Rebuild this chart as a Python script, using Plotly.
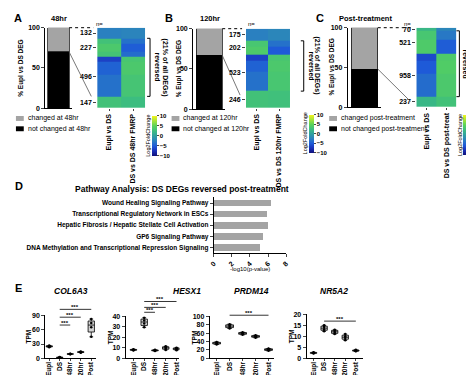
import plotly.graph_objects as go
from itertools import accumulate

W, H = 474, 375
FONT = "Liberation Sans, Arial, sans-serif"
GREY = "#a4a4a4"

# ---------------- DATA ----------------
panel_letters = ["A", "B", "C"]
bar_titles = ["48hr", "120hr", "Post-treatment"]
pct_not_changed = [70, 67, 48]
pct_changed = [30, 33, 52]
legend_changed = ["changed at 48hr", "changed at 120hr", "changed post-treatment"]
legend_not = ["not changed at 48hr", "not changed at 120hr", "not changed post-treatment"]
reversed_pct = ["(21% of all DEGs)", "(21% of all DEGs)", "(43% of all DEGs)"]

hm_cols_A = ["Eupl vs DS", "DS vs DS 48hr FMRP"]
hm_cols_B = ["Eupl vs DS", "DS vs DS 120hr FMRP"]
hm_cols_C = ["Eupl vs DS", "DS vs DS post-treat"]

blocks_A = [132, 227, 496, 147]
blocks_B = [175, 202, 523, 246]
blocks_C = [70, 521, 958, 237]

# sub-segments of the blocks (gene counts) with their log2 fold changes
segments_A = [132, 70, 100, 57, 70, 160, 266, 147]
lfc_eupl_A = [-2.5, 3.0, 3.8, 3.2, -6.5, -4.5, -3.5, 3.0]
lfc_treat_A = [-2.2, -3.5, -4.8, -3.8, 3.5, 3.8, 3.3, 2.5]

segments_B = [175, 80, 122, 80, 170, 273, 246]
lfc_eupl_B = [-2.5, 3.5, 4.0, -6.5, -4.5, -3.5, 3.0]
lfc_treat_B = [-2.0, -3.5, -5.0, 3.5, 3.8, 3.5, 2.8]

segments_C = [70, 200, 321, 150, 300, 508, 237]
lfc_eupl_C = [2.0, 3.5, 4.0, -6.0, -5.0, -3.8, 2.0]
lfc_treat_C = [-2.0, -3.0, -4.8, 4.0, 4.2, 3.8, 3.0]

cb_ticks = [-10, -5, 0, 5, 10]

pathways = ["Wound Healing Signaling Pathway",
            "Transcriptional Regulatory Network in ESCs",
            "Hepatic Fibrosis / Hepatic Stellate Cell Activation",
            "GP6 Signaling Pathway",
            "DNA Methylation and Transcriptional Repression Signaling"]
neglog10_p = [6.3, 5.85, 5.95, 5.4, 5.15]
d_ticks = [0, 2, 4, 6, 8]

groups = ["Eupl", "DS", "48hr", "120hr", "Post"]
genes = ["COL6A3", "HESX1", "PRDM14", "NR5A2"]
tpm_COL6A3 = [[23.5, 24.5, 25.5, 27], [1.2, 1.8, 2.3, 2.8], [8.5, 9, 9.4, 9.8],
              [12, 12.8, 13.6, 14.5], [45, 65, 74, 82]]
tpm_HESX1 = [[7.5, 8, 8.3, 8.7], [29.5, 33, 36, 38.5], [7, 7.4, 7.8, 8.2],
             [8, 9.5, 10.5, 11.5], [7.8, 8.8, 9.5, 10.2]]
tpm_PRDM14 = [[33, 35.5, 37, 39], [71, 75, 78, 81], [56, 58.5, 60.5, 62],
              [49, 51.5, 53, 55], [18, 20, 22, 23.5]]
tpm_NR5A2 = [[2.2, 2.4, 2.6, 2.8], [12.3, 13.2, 14.2, 15], [11, 11.7, 12.4, 13],
             [8.2, 9.2, 10, 11], [3.2, 3.4, 3.7, 3.9]]
tpm_ticks = [[0, 30, 60, 90], [0, 10, 20, 30, 40], [0, 20, 40, 60, 80, 100], [0, 5, 10, 15, 20]]
sig_pairs = [[("DS", "Post"), ("DS", "120hr"), ("DS", "48hr")],
             [("DS", "Post"), ("DS", "120hr"), ("DS", "48hr")],
             [("DS", "Post")],
             [("DS", "Post")]]

# ---------------- LAYOUT HELPERS ----------------
def xd(a, b):
    return [a / W, b / W]

def yd(top, bot):
    return [1 - bot / H, 1 - top / H]

def an(i):
    return "" if i == 1 else str(i)

def fnt(size=7, bold=True, italic=False, color="black"):
    return dict(family=FONT, size=size, color=color,
                weight="bold" if bold else "normal",
                style="italic" if italic else "normal")

annotations = []
shapes = []

def ann(text, x, y, size=7, bold=True, angle=0, xa="center", ya="middle",
        xref="paper", yref="paper", italic=False, px=True):
    if px and xref == "paper":
        x = x / W
    if px and yref == "paper":
        y = 1 - y / H
    annotations.append(dict(text=text, x=x, y=y, xref=xref, yref=yref, showarrow=False,
                            textangle=angle, xanchor=xa, yanchor=ya,
                            font=fnt(size, bold, italic)))

def pline(x0, y0, x1, y1, width=1, color="black", dash="solid"):
    shapes.append(dict(type="line", xref="paper", yref="paper", x0=x0 / W, x1=x1 / W,
                       y0=1 - y0 / H, y1=1 - y1 / H,
                       line=dict(color=color, width=width, dash=dash)))

CS = [[0.0, "#10107a"], [0.125, "#1a30b8"], [0.25, "#1e5ad8"], [0.375, "#2a80c0"],
      [0.5, "#2fa0a0"], [0.625, "#3cbd80"], [0.75, "#5ad35a"], [0.875, "#a5e33a"],
      [1.0, "#f2f21e"]]

fig = go.Figure()
layout = dict(width=W, height=H, margin=dict(l=0, r=0, t=0, b=0, pad=0),
              paper_bgcolor="white", plot_bgcolor="white", showlegend=False,
              barmode="stack", font=dict(family=FONT, size=7, color="black"))

# ---------------- PANELS A-C ----------------
hm_data = [(blocks_A, segments_A, lfc_eupl_A, lfc_treat_A, hm_cols_A),
           (blocks_B, segments_B, lfc_eupl_B, lfc_treat_B, hm_cols_B),
           (blocks_C, segments_C, lfc_eupl_C, lfc_treat_C, hm_cols_C)]

geo = [
    dict(bx=(33, 60), by=(16, 98), hx=(86, 135), hy=(16, 98), cbx=142, cby=(106, 146),
         brx=140, t1x=148, t2x=155, ytx=8, letter=(5, 6), nx=88, lgx=3),
    dict(bx=(184, 217), by=(17, 99), hx=(238, 283), hy=(17, 98), cbx=302, cby=(105, 143),
         brx=297, t1x=304, t2x=311, ytx=170, letter=(159, 6), nx=244, lgx=162),
    dict(bx=(342, 376), by=(16, 97), hx=(412, 453), hy=(16, 97), cbx=460, cby=(105, 145),
         brx=456, t1x=462, t2x=468, ytx=326, letter=(314, 6), nx=403, lgx=323),
]
BARW = 0.8

for i in range(3):
    g = geo[i]
    bi, hi = 2 * i + 1, 2 * i + 2
    blocks, segs, eupl, treat, cols = hm_data[i]

    fig.add_trace(go.Bar(x=[0], y=[pct_not_changed[i]], width=BARW,
                         marker=dict(color="black", line=dict(color="black", width=0.7)),
                         xaxis="x" + an(bi), yaxis="y" + an(bi)))
    fig.add_trace(go.Bar(x=[0], y=[pct_changed[i]], width=BARW,
                         marker=dict(color=GREY, line=dict(color="black", width=0.7)),
                         xaxis="x" + an(bi), yaxis="y" + an(bi)))
    layout["xaxis" + an(bi)] = dict(domain=xd(*g["bx"]), range=[-0.5, 0.5], showticklabels=False,
                                    showline=True, linecolor="black", linewidth=1, ticks="",
                                    showgrid=False, zeroline=False, anchor="y" + an(bi))
    layout["yaxis" + an(bi)] = dict(domain=yd(*g["by"]), range=[0, 100], tickvals=[0, 50, 100],
                                    ticks="outside", ticklen=3, tickwidth=1, showline=True,
                                    linecolor="black", linewidth=1, showgrid=False, zeroline=False,
                                    tickfont=fnt(7), anchor="x" + an(bi))

    edges = [0] + list(accumulate(segs))
    bedges = [0] + list(accumulate(blocks))
    centers = [(a + b) / 2 for a, b in zip(bedges[:-1], bedges[1:])]
    z = [[e, t] for e, t in zip(eupl, treat)]
    cb0, cb1 = g["cby"]
    fig.add_trace(go.Heatmap(
        x=cols, y=edges, z=z, zmin=-10, zmax=10, colorscale=CS,
        xaxis="x" + an(hi), yaxis="y" + an(hi),
        colorbar=dict(x=g["cbx"] / W, xanchor="left", y=1 - (cb0 + cb1) / 2 / H, yanchor="middle",
                      len=cb1 - cb0, lenmode="pixels", thickness=5, thicknessmode="pixels",
                      tickvals=cb_ticks, ticks="outside", ticklen=2, tickwidth=0.8,
                      tickfont=fnt(6), outlinewidth=0, xpad=0, ypad=0)))
    layout["xaxis" + an(hi)] = dict(domain=xd(*g["hx"]), tickangle=-90, ticks="outside", ticklen=2,
                                    showline=False, showgrid=False, zeroline=False,
                                    tickfont=fnt(7), anchor="y" + an(hi))
    layout["yaxis" + an(hi)] = dict(domain=yd(*g["hy"]), range=[bedges[-1], 0],
                                    tickvals=centers, ticktext=[str(n) for n in blocks],
                                    ticks="outside", ticklen=3, tickwidth=1, showline=False,
                                    showgrid=False, zeroline=False, tickfont=fnt(7),
                                    anchor="x" + an(hi))

    # bracket for reversed genes (blocks 2 and 3)
    yref = "y" + an(hi)
    r0, r1 = bedges[1], bedges[3]
    bx = g["brx"]
    for (x0, x1, y0, y1) in [(bx, bx, r0, r1), (bx - 3, bx, r0, r0), (bx - 3, bx, r1, r1)]:
        shapes.append(dict(type="line", xref="paper", yref=yref, x0=x0 / W, x1=x1 / W,
                           y0=y0, y1=y1, line=dict(color="black", width=1)))
    ann("reversed", g["t1x"], (r0 + r1) / 2, size=7, angle=90, yref=yref)
    ann(reversed_pct[i], g["t2x"], (r0 + r1) / 2, size=7, angle=90, yref=yref)

    # connectors between bar and heatmap
    bx0, bx1 = g["bx"]
    by0, by1 = g["by"]
    bar_right = bx0 + (0.5 + BARW / 2) * (bx1 - bx0)
    hx0 = g["hx"][0]
    pline(bar_right, by0, hx0 - 4, by0, width=1, dash="dot")
    ytop = by1 - pct_not_changed[i] / 100 * (by1 - by0)
    xe = hx0 - 6
    ye = ytop + (g["hy"][1] - ytop) * (xe - bar_right) / (hx0 - bar_right)
    pline(bar_right, ytop, xe, ye, width=0.8, color="#555555")

    # texts
    ann(panel_letters[i], g["letter"][0], g["letter"][1], size=11)
    ann(bar_titles[i], (bx0 + bx1) / 2 + 1, 7, size=7.5)
    ann("% Eupl vs DS DEG", g["ytx"], (by0 + by1) / 2, size=6.5, angle=-90)
    ann("n=", g["nx"], 12.5, size=6, bold=False)
    ann("Log2FoldChange", g["cbx"] - 4, (cb0 + cb1) / 2, size=5.5, bold=False, angle=-90)

    # manual legend
    lx = g["lgx"]
    for (yc, col, txt) in [(108.5, GREY, legend_changed[i]), (119, "black", legend_not[i])]:
        shapes.append(dict(type="rect", xref="paper", yref="paper", x0=lx / W, x1=(lx + 8) / W,
                           y0=1 - (yc + 2.5) / H, y1=1 - (yc - 2.5) / H,
                           fillcolor=col, line=dict(width=0)))
        ann(txt, lx + 10, yc, size=7, bold=False, xa="left")

# ---------------- PANEL D ----------------
fig.add_trace(go.Bar(y=pathways, x=neglog10_p, orientation="h", width=0.6,
                     marker=dict(color=GREY, line=dict(width=0)), xaxis="x7", yaxis="y7"))
layout["xaxis7"] = dict(domain=xd(205, 279), range=[0, 8], tickvals=d_ticks, tickangle=-45,
                        ticks="outside", ticklen=3, showline=True, linecolor="black", linewidth=1,
                        showgrid=False, zeroline=False, tickfont=fnt(7), anchor="y7")
layout["yaxis7"] = dict(domain=yd(189, 245.5), type="category", categoryorder="array",
                        categoryarray=pathways, autorange="reversed", ticks="outside", ticklen=3,
                        showline=True, linecolor="black", linewidth=1, showgrid=False,
                        tickfont=fnt(6.5), anchor="x7")
ann("D", 6, 177, size=11)
ann("Pathway Analysis: DS DEGs reversed post-treatment", 173, 180, size=8.5)
ann("-log10(p-value)", 242, 262, size=6, bold=False)

# ---------------- PANEL E ----------------
tpm_all = [tpm_COL6A3, tpm_HESX1, tpm_PRDM14, tpm_NR5A2]
e_dx = [(33, 85), (115, 170), (201, 267), (300, 358)]
e_dy = [(309, 353), (310, 353), (310, 353), (308, 353)]
e_rx = [[-0.37, 4.47], [-0.73, 4.27], [-0.53, 4.45], [-0.65, 4.72]]
e_title_x = [59, 178, 244, 328]
e_tpm_x = [16, 99, 185, 284]
sig_y_px = [[303, 311, 319], [295, 301, 306], [309], [315]]

ann("E", 6, 281, size=11)
for j, gname in enumerate(genes):
    k = 8 + j
    for gi, grp in enumerate(groups):
        vals = tpm_all[j][gi]
        fig.add_trace(go.Box(x=[grp] * len(vals), y=vals, name=grp, width=0.6,
                             boxpoints="all", jitter=0, pointpos=0, quartilemethod="exclusive",
                             marker=dict(color="black", size=2.5),
                             line=dict(color="black", width=0.8), fillcolor="#d4d4d4",
                             whiskerwidth=0.6, xaxis="x" + str(k), yaxis="y" + str(k)))
    ymax = tpm_ticks[j][-1]
    layout["xaxis" + str(k)] = dict(domain=xd(*e_dx[j]), type="category", categoryorder="array",
                                    categoryarray=groups, range=e_rx[j], tickangle=-90,
                                    ticks="outside", ticklen=2, ticklabelstandoff=-2,
                                    showline=True, linecolor="black",
                                    linewidth=1, showgrid=False, tickfont=fnt(6.5),
                                    anchor="y" + str(k))
    layout["yaxis" + str(k)] = dict(domain=yd(*e_dy[j]), range=[0, ymax], tickvals=tpm_ticks[j],
                                    ticks="outside", ticklen=3, showline=True, linecolor="black",
                                    linewidth=1, showgrid=False, zeroline=False,
                                    tickfont=fnt(7), anchor="x" + str(k))
    ann("<i>" + gname + "</i>", e_title_x[j], 284, size=8.5, italic=True)
    ann("TPM", e_tpm_x[j], sum(e_dy[j]) / 2, size=6.5, angle=-90)
    top, bot = e_dy[j]
    for (a, b), ypx in zip(sig_pairs[j], sig_y_px[j]):
        yf = (bot - ypx) / (bot - top)
        x0, x1 = groups.index(a), groups.index(b)
        shapes.append(dict(type="line", xref="x" + str(k), yref="y" + str(k) + " domain",
                           x0=x0, x1=x1, y0=yf, y1=yf, line=dict(color="black", width=0.8)))
        annotations.append(dict(text="***", x=(x0 + x1) / 2, y=yf, xref="x" + str(k),
                                yref="y" + str(k) + " domain", showarrow=False,
                                xanchor="center", yanchor="bottom", yshift=-3, font=fnt(6)))

layout["annotations"] = annotations
layout["shapes"] = shapes
fig.update_layout(**layout)
fig.write_html("out.html", config={"displayModeBar": False})
